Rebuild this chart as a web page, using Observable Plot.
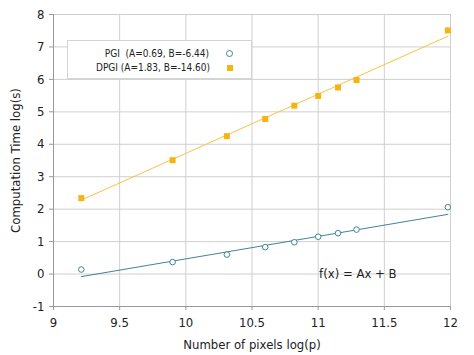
<!DOCTYPE html>
<html>
<head>
<meta charset="utf-8">
<script src="https://cdn.jsdelivr.net/npm/d3@7"></script>
<script src="https://cdn.jsdelivr.net/npm/@observablehq/plot@0.6"></script>
<style>
  html, body { margin: 0; padding: 0; background: #fff; }
  #wrap { position: relative; width: 474px; height: 355px; font-family: "DejaVu Sans Condensed", "DejaVu Sans", sans-serif; }
  #legend { position: absolute; left: 67px; top: 40px; width: 185px; height: 39px; background: #fff;
            border: 1px solid #d4d4d4; box-sizing: border-box; font-size: 10px; color: #222; }
  .row { position: absolute; right: 18px; display: flex; align-items: center; }
  .row span.t { text-align: right; }
  .mk { display: inline-block; margin-left: 17px; width: 6px; height: 6px; }
</style>
</head>
<body>
<div id="wrap"></div>
<script>
// Data
const xs = [9.21, 9.90, 10.31, 10.60, 10.82, 11.00, 11.15, 11.29, 11.98];
const pgi = [0.14, 0.37, 0.60, 0.83, 0.98, 1.15, 1.26, 1.37, 2.06];
const dpgi = [2.34, 3.51, 4.25, 4.78, 5.19, 5.49, 5.75, 5.98, 7.51];
const fitX = [9.21, 11.98];
const pgiFit = [-0.08, 1.84];
const dpgiFit = [2.28, 7.33];
const xTicks = [9, 9.5, 10, 10.5, 11, 11.5, 12];
const yTicks = [-1, 0, 1, 2, 3, 4, 5, 6, 7, 8];
const seriesNames = ["PGI  (A=0.69, B=-6.44)", "DPGI (A=1.83, B=-14.60)"];
const note = "f(x) = Ax + B";

const tealColor = "#3f8399";
const orangeColor = "#f6b412";
const orangeLine = "#f7c43f";

const pts = xs.map((x, i) => ({x, pgi: pgi[i], dpgi: dpgi[i]}));
const fit = fitX.map((x, i) => ({x, pgi: pgiFit[i], dpgi: dpgiFit[i]}));

const chart = Plot.plot({
  width: 474, height: 355,
  marginLeft: 53, marginRight: 24, marginTop: 14, marginBottom: 49,
  style: {fontFamily: "'DejaVu Sans Condensed', 'DejaVu Sans', sans-serif", fontSize: "13px", color: "#222", background: "#fff"},
  x: {domain: [9, 12]},
  y: {domain: [-1, 8]},
  marks: [
    Plot.gridX(xTicks, {stroke: "#cfcfcf", strokeOpacity: 1}),
    Plot.gridY(yTicks, {stroke: "#cfcfcf", strokeOpacity: 1}),
    Plot.ruleX([9], {stroke: "#999"}),
    Plot.ruleY([-1], {stroke: "#999"}),
    Plot.axisX(xTicks, {tickSize: 4, tickPadding: 7, stroke: "#999", fontSize: 13, fill: "#222",
      label: "Number of pixels log(p)", labelAnchor: "center", labelArrow: "none", labelOffset: 42,
      tickFormat: d => String(d)}),
    Plot.axisY(yTicks, {tickSize: 4, tickPadding: 5, stroke: "#999", fontSize: 13, fill: "#222",
      label: "Computation Time log(s)", labelAnchor: "center", labelArrow: "none", labelOffset: 43,
      tickFormat: d => String(d)}),
    Plot.line(fit, {x: "x", y: "pgi", stroke: tealColor, strokeWidth: 1}),
    Plot.line(fit, {x: "x", y: "dpgi", stroke: orangeLine, strokeWidth: 1}),
    Plot.dot(pts, {x: "x", y: "pgi", r: 2.8, stroke: tealColor, strokeWidth: 1, fill: "#fff"}),
    Plot.dot(pts, {x: "x", y: "dpgi", symbol: "square", r: 3.4, fill: orangeColor, stroke: "none"}),
    Plot.text([note], {x: 11.30, y: 0, text: d => d, fontSize: 13, fill: "#222"})
  ]
});

const wrap = document.getElementById("wrap");
wrap.appendChild(chart);

const legend = document.createElement("div");
legend.id = "legend";
const markers = [
  `<span class="mk" style="width:5px;height:5px;border:1px solid ${tealColor};border-radius:50%;"></span>`,
  `<span class="mk" style="background:${orangeColor};width:6px;height:6px;"></span>`
];
seriesNames.forEach((name, i) => {
  const row = document.createElement("div");
  row.className = "row";
  row.style.top = (i === 0 ? 7 : 21) + "px";
  row.innerHTML = `<span class="t" style="white-space:pre">${name}</span>${markers[i]}`;
  legend.appendChild(row);
});
wrap.appendChild(legend);
</script>
</body>
</html>
